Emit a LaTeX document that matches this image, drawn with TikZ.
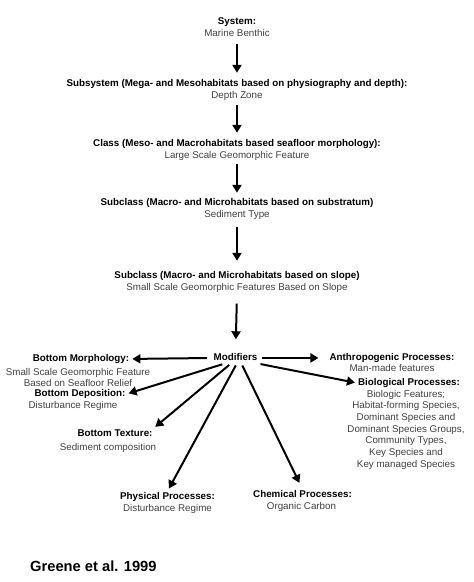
\documentclass[tikz,border=0pt]{standalone}
\usepackage{fontspec}
\setmainfont{Liberation Sans}
\usetikzlibrary{arrows.meta,positioning}

\begin{document}
\begin{tikzpicture}[x=1pt,y=-1pt,node distance=0.7pt,
  head/.style={font=\bfseries\fontsize{9.8}{11.7}\selectfont, inner sep=1pt, text height=7.1pt, text depth=2pt, anchor=base},
  body/.style={font=\fontsize{9.8}{11.7}\selectfont, text=black!75, align=center, inner sep=1pt, text depth=2pt},
  arr/.style={-{Triangle[length=8pt,width=9pt]}, line width=2pt, shorten <=2pt, shorten >=2pt}]
\useasboundingbox (0,0) rectangle (474,582);
% classification levels
\node[head] (sys) at (237,24.5) {System:};
\node[body,below=of sys] (benthic) {Marine Benthic};
\node[head] (subsys) at (237,86.5) {Subsystem (Mega- and Mesohabitats based on physiography and depth):};
\node[body,below=of subsys] (depth) {Depth Zone};
\node[head] (cls) at (237,146.5) {Class (Meso- and Macrohabitats based seafloor morphology):};
\node[body,below=of cls] (large) {Large Scale Geomorphic Feature};
\node[head] (subcl) at (237,205.5) {Subclass (Macro- and Microhabitats based on substratum)};
\node[body,below=of subcl] (sed) {Sediment Type};
\node[head] (slope) at (237,278.5) {Subclass (Macro- and Microhabitats based on slope)};
\node[body,below=of slope] (small) {Small Scale Geomorphic Features Based on Slope};
\node[head] (mod) at (235.5,360.5) {Modifiers};
\foreach \a/\b/\s/\e in {benthic/subsys/3.7/5.4, depth/cls/2.7/5.4, large/subcl/1.7/4.4, sed/slope/5.7/9.4, small/mod/9.7/12.9}
{       \draw[arr, shorten <=\s pt, shorten >=\e pt] (\a.south) -- (\b.north);
}
% modifiers
\node[head] (morph) at (81,361.5) {Bottom Morphology:};
\node[body,below=2pt of morph,xshift=-3pt] (morphb) {Small Scale Geomorphic Feature\\Based on Seafloor Relief};
\node[head] (dep) at (80,396.5) {Bottom Deposition:};
\node[body,below=of dep,xshift=-7pt] (depb) {Disturbance Regime};
\node[head] (tex) at (115,436.5) {Bottom Texture:};
\node[body,below=2pt of tex,xshift=-7pt] (texb) {Sediment composition};
\node[head] (phys) at (167.5,499.5) {Physical Processes:};
\node[body,below=of phys] (physb) {Disturbance Regime};
\node[head] (chem) at (302.5,497.5) {Chemical Processes:};
\node[body,below=of chem,xshift=-1pt] (chemb) {Organic Carbon};
\node[head] (anth) at (392,360.5) {Anthropogenic Processes:};
\node[body,below=-1pt of anth] (anthb) {Man-made features};
\node[head] (bio) at (409,385.5) {Biological Processes:};
\node[body,below=0pt of bio,xshift=-3pt] (biob) {Biologic Features;\\Habitat-forming Species,\\Dominant Species and\\Dominant Species Groups,\\Community Types,\\Key Species and\\Key managed Species};
\draw[arr, shorten <=5.5pt] (mod.west) -- (morph.east);
\draw[arr] (mod.207) -- (dep.east);
\draw[arr] (mod.230) -- (tex.north east);
\draw[arr, shorten >=3pt] (mod.282) -- (phys.north);
\draw[arr, shorten >=7pt] (mod.316) -- (chem.north);
\draw[arr] (mod.346) -- (bio.west);
\draw[arr, shorten <=4pt, shorten >=10pt] (mod.east) -- (anth.west);
\node[font=\bfseries\fontsize{14.7}{17}\selectfont, anchor=base west, inner sep=0pt] (src) at (30,571.5) {Greene et al. 1999};
\end{tikzpicture}
\end{document}
